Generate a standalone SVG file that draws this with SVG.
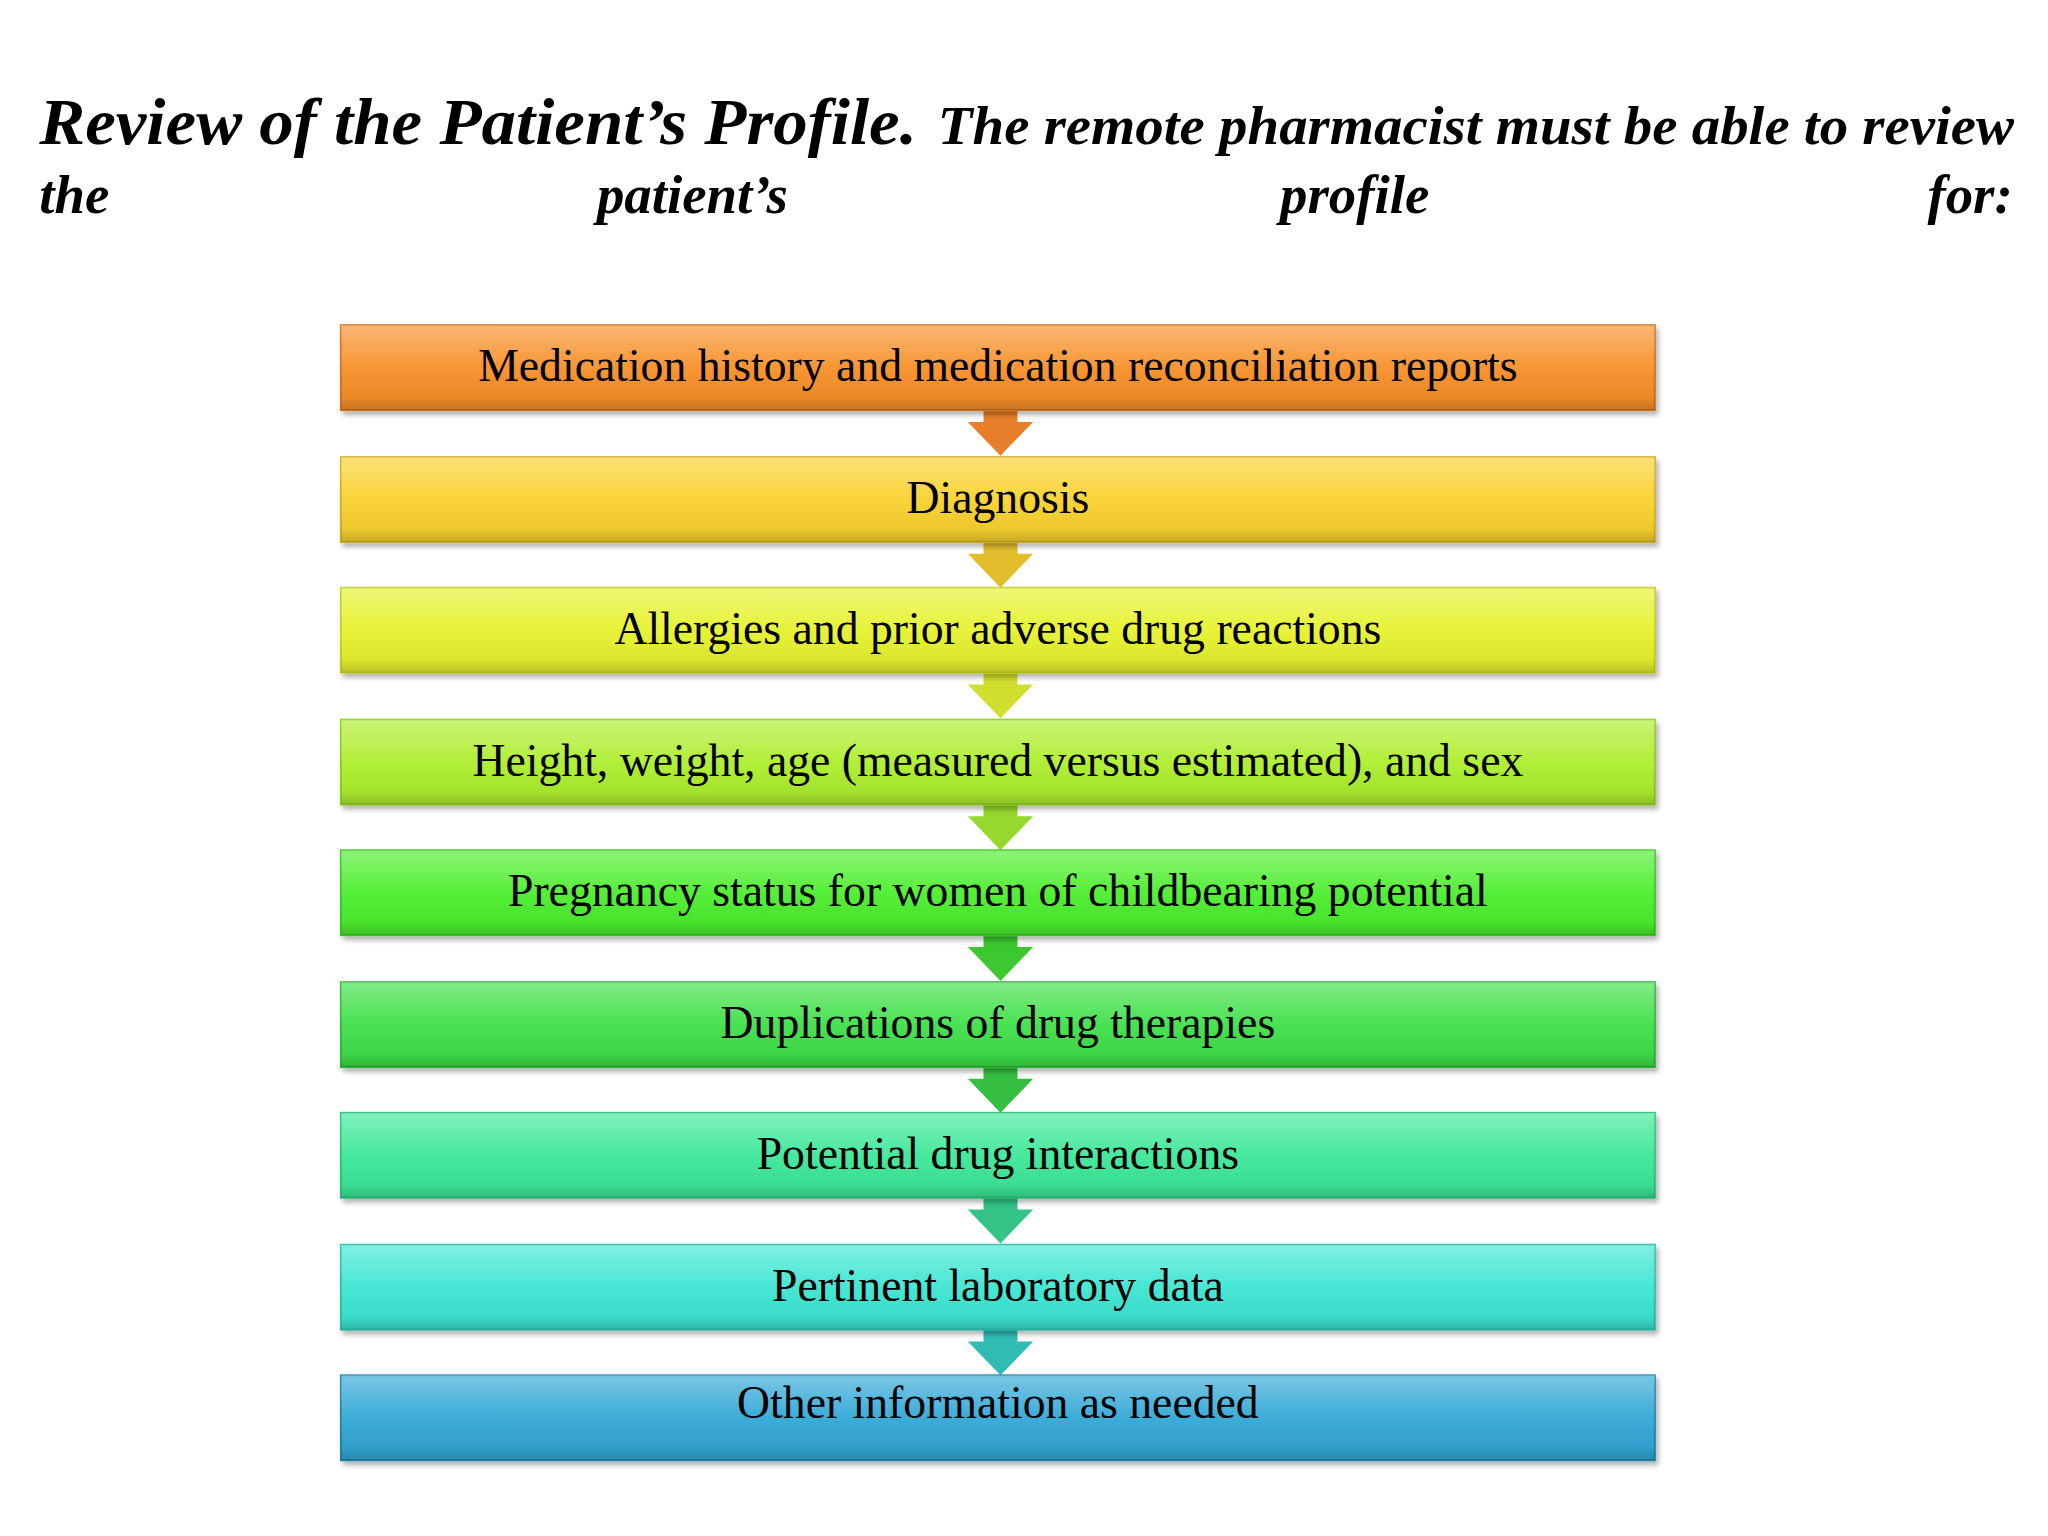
<svg xmlns="http://www.w3.org/2000/svg" width="2048" height="1536" viewBox="0 0 2048 1536">
<defs>
<linearGradient id="sh" x1="0" y1="0" x2="0" y2="1">
<stop offset="0" stop-color="#fff" stop-opacity="0.35"/>
<stop offset="0.5" stop-color="#fff" stop-opacity="0.05"/>
<stop offset="0.85" stop-color="#000" stop-opacity="0.05"/>
<stop offset="1" stop-color="#000" stop-opacity="0.2"/>
</linearGradient>
<filter id="ds" x="-5%" y="-20%" width="110%" height="150%"><feDropShadow dx="2" dy="3" stdDeviation="2" flood-opacity="0.3"/></filter>
</defs>
<style>
.t{font-family:"Liberation Serif",serif;font-size:35px;fill:#000;text-anchor:middle}
.h{font-family:"Liberation Serif",serif;font-weight:bold;font-style:italic;fill:#000}
.b{stroke-width:1.5;filter:url(#ds)}
</style>
<rect width="2048" height="1536" fill="#fff"/>
<g transform="scale(1.30612)">
<g id="title">
<text class="h" x="30" y="110" font-size="50" textLength="672" lengthAdjust="spacingAndGlyphs">Review of the Patient’s Profile.</text>
<text class="h" x="718" y="110" font-size="42" textLength="824" lengthAdjust="spacingAndGlyphs">The remote pharmacist must be able to review</text>
<text class="h" x="30" y="163" font-size="42">the</text>
<text class="h" x="457" y="163" font-size="42">patient’s</text>
<text class="h" x="980" y="163" font-size="42">profile</text>
<text class="h" x="1541" y="163" font-size="42" text-anchor="end">for:</text>
</g>
<g id="connectors">
<path d="M753 305h26v18h12l-25 26l-25-26h12z" fill="#E87E2A"/>
<path d="M753 406h26v18h12l-25 26l-25-26h12z" fill="#E2BE2C"/>
<path d="M753 506h26v18h12l-25 26l-25-26h12z" fill="#D2DE2E"/>
<path d="M753 607h26v18h12l-25 26l-25-26h12z" fill="#96D82E"/>
<path d="M753 707h26v18h12l-25 26l-25-26h12z" fill="#3CC82E"/>
<path d="M753 808h26v18h12l-25 26l-25-26h12z" fill="#35BE40"/>
<path d="M753 908h26v18h12l-25 26l-25-26h12z" fill="#33C486"/>
<path d="M753 1009h26v18h12l-25 26l-25-26h12z" fill="#30BCB4"/>
</g>
<g id="n1"><rect class="b" x="261" y="249" width="1006" height="65" fill="#F7902B" stroke="#D0741E"/><rect x="261" y="249" width="1006" height="65" fill="url(#sh)"/><text class="t" x="764" y="292">Medication history and medication reconciliation reports</text></g>
<g id="n2"><rect class="b" x="261" y="350" width="1006" height="65" fill="#F9D22F" stroke="#D4B020"/><rect x="261" y="350" width="1006" height="65" fill="url(#sh)"/><text class="t" x="764" y="393">Diagnosis</text></g>
<g id="n3"><rect class="b" x="261" y="450" width="1006" height="65" fill="#E6F22E" stroke="#C4D020"/><rect x="261" y="450" width="1006" height="65" fill="url(#sh)"/><text class="t" x="764" y="493">Allergies and prior adverse drug reactions</text></g>
<g id="n4"><rect class="b" x="261" y="551" width="1006" height="65" fill="#AEEE2E" stroke="#8CCC20"/><rect x="261" y="551" width="1006" height="65" fill="url(#sh)"/><text class="t" x="764" y="594">Height, weight, age (measured versus estimated), and sex</text></g>
<g id="n5"><rect class="b" x="261" y="651" width="1006" height="65" fill="#4EEE2E" stroke="#38C820"/><rect x="261" y="651" width="1006" height="65" fill="url(#sh)"/><text class="t" x="764" y="694">Pregnancy status for women of childbearing potential</text></g>
<g id="n6"><rect class="b" x="261" y="752" width="1006" height="65" fill="#40E048" stroke="#2EB838"/><rect x="261" y="752" width="1006" height="65" fill="url(#sh)"/><text class="t" x="764" y="795">Duplications of drug therapies</text></g>
<g id="n7"><rect class="b" x="261" y="852" width="1006" height="65" fill="#3CE898" stroke="#2CC47A"/><rect x="261" y="852" width="1006" height="65" fill="url(#sh)"/><text class="t" x="764" y="895">Potential drug interactions</text></g>
<g id="n8"><rect class="b" x="261" y="953" width="1006" height="65" fill="#3EE6D2" stroke="#2CC0AE"/><rect x="261" y="953" width="1006" height="65" fill="url(#sh)"/><text class="t" x="764" y="996">Pertinent laboratory data</text></g>
<g id="n9"><rect class="b" x="261" y="1053" width="1006" height="65" fill="#33A8D6" stroke="#2284AE"/><rect x="261" y="1053" width="1006" height="65" fill="url(#sh)"/><text class="t" x="764" y="1086">Other information as needed</text></g>
</g>
</svg>
